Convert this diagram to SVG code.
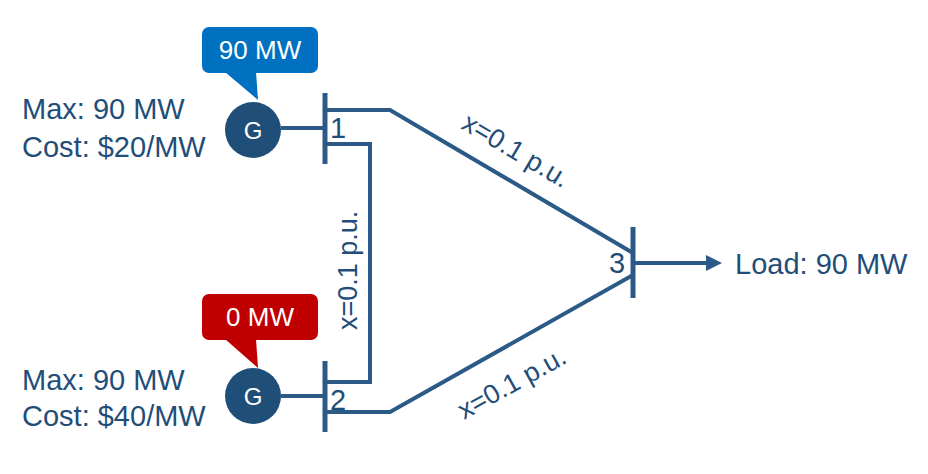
<svg xmlns="http://www.w3.org/2000/svg" width="928" height="474" viewBox="0 0 928 474">
<style>
.t{font-family:"Liberation Sans",Arial,sans-serif;fill:#1F4E79;font-size:29px}
.lb{font-size:27px}
.ln{stroke:#2C5A87;stroke-width:4;fill:none}
.bus{stroke:#2C5A87;stroke-width:5}
.g{fill:#1F4E79}
.gt{font-family:"Liberation Sans",Arial,sans-serif;fill:#fff;font-size:24px;text-anchor:middle}
.ct{font-family:"Liberation Sans",Arial,sans-serif;fill:#fff;font-size:26px;text-anchor:middle}
</style>
<rect width="928" height="474" fill="#fff"/>
<g id="connectors">
<line class="ln" x1="281" y1="128" x2="325" y2="128"/>
<line class="ln" x1="281" y1="396" x2="325" y2="396"/>
<polyline class="ln" points="325,110 390,110 633,253"/>
<polyline class="ln" points="325,144 370,144 370,382 325,382"/>
<polyline class="ln" points="325,412 390,412 633,275"/>
<line class="ln" x1="633" y1="263" x2="708" y2="263"/>
<polygon points="706,255 722,263 706,271" fill="#2C5A87"/>
<text class="t lb" transform="translate(460,128) rotate(30.5)">x=0.1 p.u.</text>
<text class="t lb" transform="translate(357,330) rotate(-90)">x=0.1 p.u.</text>
<text class="t lb" transform="translate(464,420) rotate(-29)">x=0.1 p.u.</text>
</g>
<g id="bus1"><line class="bus" x1="325" y1="93" x2="325" y2="164"/><text class="t" x="330" y="138" font-size="21">1</text></g>
<g id="bus2"><line class="bus" x1="325" y1="361" x2="325" y2="432"/><text class="t" x="330" y="410" font-size="21">2</text></g>
<g id="bus3"><line class="bus" x1="633" y1="227" x2="633" y2="298"/><text class="t" x="609" y="273" font-size="21">3</text></g>
<g id="gen1"><circle class="g" cx="253" cy="130" r="28"/><text class="gt" x="253" y="139">G</text></g>
<g id="gen2"><circle class="g" cx="253" cy="396" r="28"/><text class="gt" x="253" y="405">G</text></g>
<g id="callout1"><rect x="202" y="27" width="116" height="46" rx="7" fill="#0070C0"/><polygon points="225,72 256,72 258,100" fill="#0070C0"/><text class="ct" x="260" y="59">90 MW</text></g>
<g id="callout2"><rect x="202" y="294" width="116" height="46" rx="7" fill="#C00000"/><polygon points="225,339 256,339 258,368" fill="#C00000"/><text class="ct" x="260" y="326">0 MW</text></g>
<g id="info1"><text class="t" x="22" y="119">Max: 90 MW</text><text class="t" x="22" y="157">Cost: $20/MW</text></g>
<g id="info2"><text class="t" x="22" y="390">Max: 90 MW</text><text class="t" x="22" y="426">Cost: $40/MW</text></g>
<g id="load"><text class="t" x="735" y="274">Load: 90 MW</text></g>
</svg>
